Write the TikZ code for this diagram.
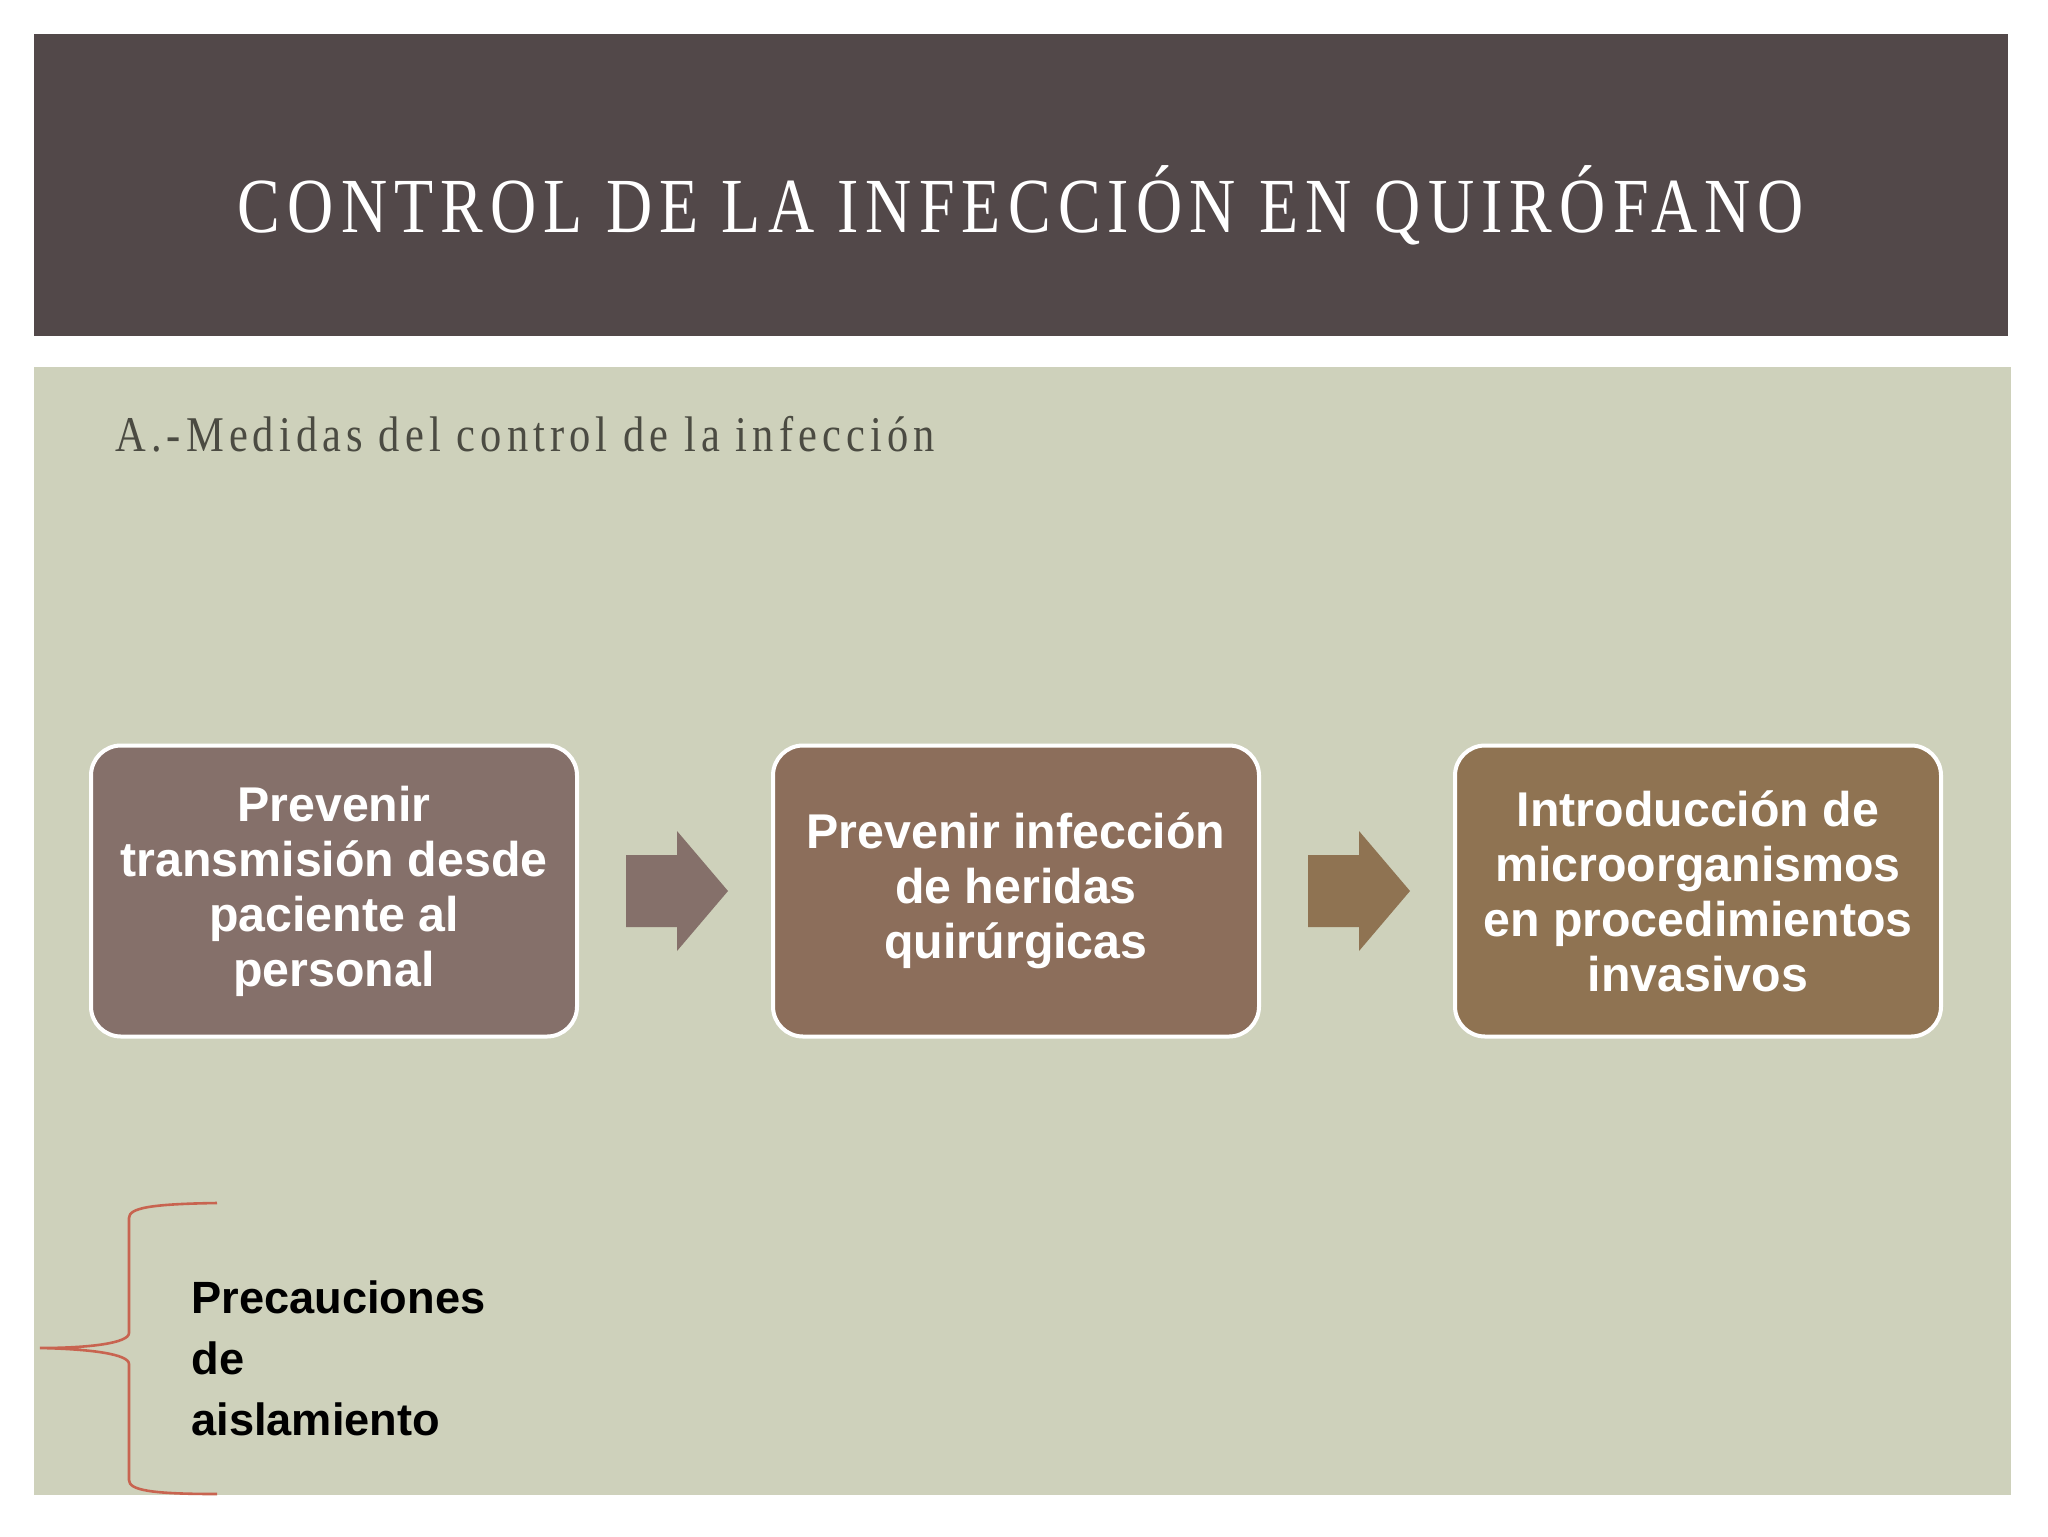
\documentclass[tikz,border=0pt]{standalone}
\usepackage{fontspec}
\setmainfont{Liberation Serif}
\newfontfamily\titlefont{Liberation Serif}[FakeStretch=0.82,LetterSpace=9.2]
\newfontfamily\subfont{Liberation Serif}[FakeStretch=0.85,LetterSpace=10.2]
\newfontfamily\boxfont{Liberation Sans}[FakeStretch=0.99]
\newfontfamily\precfont{Liberation Sans}
\usetikzlibrary{calc}
\definecolor{titlebar}{HTML}{524849}
\definecolor{bodybg}{HTML}{CED1BB}
\definecolor{boxA}{HTML}{85706A}
\definecolor{boxB}{HTML}{8C6E5B}
\definecolor{boxC}{HTML}{8F7352}
\definecolor{bracecol}{HTML}{C86450}
\definecolor{subcol}{HTML}{4B4B42}
\tikzset{
  stepbox/.style={rectangle, rounded corners=15pt, draw=white, line width=2pt,
    minimum width=243pt, minimum height=145.5pt, inner sep=0pt, align=center,
    text=white, font=\boxfont\bfseries\fontsize{24.4pt}{27.5pt}\selectfont},
}
\begin{document}
\begin{tikzpicture}[x=0.5pt,y=-0.5pt]
\useasboundingbox (0,0) rectangle (2048,1536);
\fill[white] (0,0) rectangle (2048,1536);
% title bar and body
\fill[titlebar] (34,34) rectangle (2008,336);
\fill[bodybg] (34,367) rectangle (2011,1495);
\node[anchor=base, text=white, inner sep=0pt,
  font=\titlefont\fontsize{39pt}{39pt}\selectfont] (title) at (1021,232)
  {CONTROL DE LA INFECCIÓN EN QUIRÓFANO};
\node[anchor=base west, text=subcol, inner sep=0pt,
  font=\subfont\fontsize{25pt}{25pt}\selectfont] (sub) at (115,451)
  {A.-Medidas del control de la infección};
% boxes
\node[stepbox, fill=boxA] (b1) at (334,891) {Prevenir\\transmisión desde\\paciente al\\personal};
\node[stepbox, fill=boxB] (b2) at (1016,891) {Prevenir infección\\de heridas\\quirúrgicas};
\node[stepbox, fill=boxC] (b3) at (1698,891) {Introducción de\\microorganismos\\en procedimientos\\invasivos};
% block arrows between boxes
\coordinate (m1) at ($(b1.east)!0.5!(b2.west)+(2,0)$);
\coordinate (m2) at ($(b2.east)!0.5!(b3.west)+(2,0)$);
\fill[boxA] (m1) ++(-51,-36) -- ++(51,0) -- ++(0,-24) -- ++(51,60) -- ++(-51,60) -- ++(0,-24) -- ++(-51,0) -- cycle;
\fill[boxC] (m2) ++(-51,-36) -- ++(51,0) -- ++(0,-24) -- ++(51,60) -- ++(-51,60) -- ++(0,-24) -- ++(-51,0) -- cycle;
% brace
\draw[bracecol, line width=1.3pt] (217,1203) .. controls (150,1204) and (129,1208) .. (129,1218)
  -- (129,1333) .. controls (129,1343) and (90,1348) .. (40,1348)
  .. controls (90,1349) and (129,1354) .. (129,1364)
  -- (129,1480) .. controls (129,1490) and (150,1494) .. (217,1494);
\node[anchor=base west, align=left, inner sep=0pt, text=black,
  font=\precfont\bfseries\fontsize{22.6pt}{30.5pt}\selectfont] (prec) at (191,1435)
  {Precauciones\\de\\aislamiento};
\end{tikzpicture}
\end{document}
